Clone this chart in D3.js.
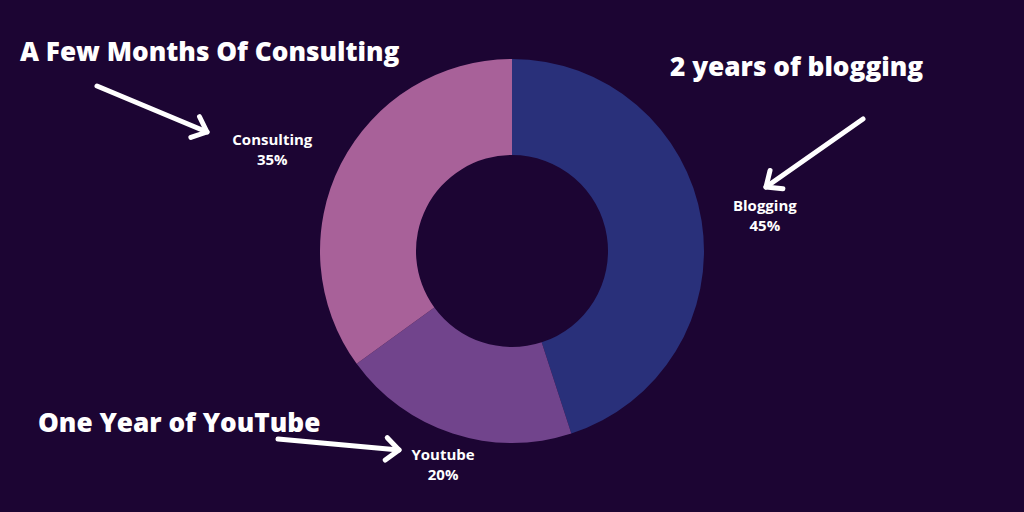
<!DOCTYPE html>
<html>
<head>
<meta charset="utf-8">
<script src="https://cdn.jsdelivr.net/npm/d3@7"></script>
<style>
  html, body { margin: 0; padding: 0; background: #1c0533; }
  svg { display: block; }
</style>
</head>
<body>
<svg></svg>
<script>
var svg = d3.select("svg");

var svgWidth = 1024,
    svgHeight = 512;

// data
var categories = ["Blogging", "Youtube", "Consulting"];
var shares = [45, 20, 35];
var colors = ["#29307a", "#71448c", "#a86199"];

// annotation headlines, one per slice
var headlines = ["2 years of blogging", "One Year of YouTube", "A Few Months Of Consulting"];

svg.attr("width", svgWidth).attr("height", svgHeight);

svg.append("rect")
    .attr("width", svgWidth)
    .attr("height", svgHeight)
    .attr("fill", "#1c0533");

var cx = 512, cy = 251,
    outerR = 192, innerR = 96;

var pie = d3.pie().sort(null).value(function(d){ return d; });
var arc = d3.arc().innerRadius(innerR).outerRadius(outerR);

var slices = pie(shares);

var group = svg.append("g")
    .attr("transform", "translate(" + cx + "," + cy + ")");

group.selectAll("path")
    .data(slices)
    .enter()
    .append("path")
    .attr("d", arc)
    .attr("fill", function(d, i){ return colors[i]; });

// label spots: distance from centre along each slice's mid angle, plus a small nudge
var labelR = [256, 223, 269];
var labelNudge = [[0, 0], [0, -3], [0, 16]];

var labels = svg.append("g")
    .attr("font-family", "'Open Sans', sans-serif")
    .attr("font-weight", 700)
    .attr("font-size", "15px")
    .attr("fill", "#ffffff")
    .attr("text-anchor", "middle");

slices.forEach(function(d, i){
    var a = (d.startAngle + d.endAngle) / 2;
    var x = cx + Math.sin(a) * labelR[i] + labelNudge[i][0];
    var y = cy - Math.cos(a) * labelR[i] + labelNudge[i][1];
    var t = labels.append("text")
        .attr("x", x)
        .attr("y", y);
    t.append("tspan").attr("x", x).text(categories[i]);
    t.append("tspan").attr("x", x).attr("dy", 20).text(shares[i] + "%");
});

// headlines
var headPos = [[670, 76], [38, 432], [20, 61]];
var heads = svg.append("g")
    .attr("font-family", "'Open Sans', sans-serif")
    .attr("font-weight", 800)
    .attr("font-size", "26.2px")
    .attr("fill", "#ffffff");

headlines.forEach(function(h, i){
    heads.append("text")
        .attr("x", headPos[i][0])
        .attr("y", headPos[i][1])
        .text(h);
});

// arrows
var arrows = [
    {from: [863, 119], to: [766, 187]},
    {from: [278, 439], to: [399, 450]},
    {from: [97, 86], to: [207, 132]}
];

var arrowG = svg.append("g")
    .attr("stroke", "#ffffff")
    .attr("stroke-width", 5)
    .attr("stroke-linecap", "round")
    .attr("stroke-linejoin", "round")
    .attr("fill", "none");

arrows.forEach(function(a){
    var dx = a.to[0] - a.from[0], dy = a.to[1] - a.from[1];
    var ang = Math.atan2(dy, dx);
    var head = 17, spread = 0.72;
    var p1 = [a.to[0] - head * Math.cos(ang - spread), a.to[1] - head * Math.sin(ang - spread)];
    var p2 = [a.to[0] - head * Math.cos(ang + spread), a.to[1] - head * Math.sin(ang + spread)];
    arrowG.append("path")
        .attr("d", d3.line()([a.from, a.to]));
    arrowG.append("path")
        .attr("d", d3.line()([p1, a.to, p2]));
});
</script>
</body>
</html>
